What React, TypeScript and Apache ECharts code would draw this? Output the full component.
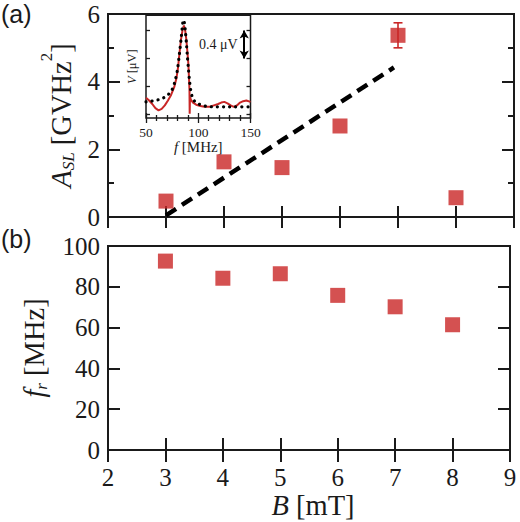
import React, { useEffect, useRef } from "react";
import * as echarts from "echarts";

// ---------- data ----------
const B_FIELD = [3, 4, 5, 6, 7, 8];
const A_SL = [0.47, 1.63, 1.46, 2.69, 5.37, 0.57];
const A_SL_ERR_B = [7];
const A_SL_ERR_LOW = [5.0];
const A_SL_ERR_HIGH = [5.74];
const FIT_B = [3, 6.93];
const FIT_A = [0.05, 4.42];
const F_R = [92.6, 84.2, 86.4, 75.8, 70.2, 61.4];

const INSET_F_MEAS = [
  50, 53, 56, 59, 62, 65, 68, 71, 74, 77, 79, 80.5, 82, 83.5, 85, 86.3, 87.5, 88.6, 89.6, 90.5, 91.2, 91.6,
  91.8, 92.1, 93, 95, 98, 102, 106, 111, 115, 119, 122, 125, 128, 131, 134, 137, 140, 143, 146, 150,
];
const INSET_V_MEAS = [
  0.29, 0.25, 0.2, 0.14, 0.11, 0.13, 0.18, 0.25, 0.33, 0.44, 0.56, 0.7, 0.92, 1.12, 1.26, 1.32, 1.25, 1.12, 0.95,
  0.78, 0.55, 0.4, 0.06, 0.3, 0.26, 0.22, 0.19, 0.17, 0.16, 0.16, 0.18, 0.2, 0.22, 0.23, 0.21, 0.18, 0.16, 0.18,
  0.22, 0.24, 0.25, 0.23,
];
const INSET_F_FIT = [
  50, 55, 60, 64, 67, 70, 73.6, 76, 78, 80, 82, 83.5, 84.8, 85.7, 86.7, 87.6, 88.6, 89.5, 90.6, 91.8, 93, 94.3,
  96.5, 99, 104, 109, 115, 125, 135, 150,
];
const INSET_V_FIT = [
  0.23, 0.24, 0.255, 0.27, 0.29, 0.32, 0.37, 0.44, 0.54, 0.68, 0.92, 1.12, 1.3, 1.4, 1.36, 1.25, 1.08, 0.9, 0.7,
  0.51, 0.38, 0.3, 0.24, 0.21, 0.18, 0.165, 0.16, 0.16, 0.16, 0.16,
];
const INSET_Y_TICKS = [0.05, 0.45, 0.85, 1.25];
const SCALE_BAR_F = 144;
const SCALE_BAR_V = [0.85, 1.25];

// ---------- styles ----------
const RED = "#c92626";
const INK = "#1a1a1a";
const SERIF = "Liberation Serif";
const SANS = "Liberation Sans";
const TITLE = 28.5;

const mainRich = (size: number) => {
  const small = Math.round(size * 0.6);
  return {
    i: { fontFamily: SERIF, fontSize: size, fontStyle: "italic", lineHeight: size + 1, padding: [0, 0, 1, 0], verticalAlign: "bottom", color: INK },
    n: { fontFamily: SERIF, fontSize: size, lineHeight: size + 1, padding: [0, 0, 1, 0], verticalAlign: "bottom", color: INK },
    sub: { fontFamily: SERIF, fontSize: small, fontStyle: "italic", lineHeight: small, verticalAlign: "bottom", color: INK },
    sup: { fontFamily: SERIF, fontSize: small, lineHeight: small, padding: [0, 0, 22, 0], verticalAlign: "bottom", color: INK },
  };
};

function buildOption() {
  const tickBase = { show: true, inside: true, lineStyle: { color: INK, width: 2 } };
  const noLine = { show: false };
  const noSplit = { show: false };

  const xAxes: any[] = [
    // top panel
    { gridIndex: 0, type: "value", position: "bottom", min: 2, max: 9, interval: 1, axisLine: noLine, splitLine: noSplit, axisTick: { ...tickBase, length: 11 }, axisLabel: { show: false } },
    { gridIndex: 0, type: "value", position: "top", min: 2, max: 9, interval: 1, axisLine: noLine, splitLine: noSplit, axisTick: { ...tickBase, length: 11 }, axisLabel: { show: false } },
    // bottom panel
    {
      gridIndex: 1, type: "value", position: "bottom", min: 2, max: 9, interval: 1, axisLine: noLine, splitLine: noSplit,
      axisTick: { ...tickBase, length: 12 },
      axisLabel: { show: true, fontFamily: SERIF, fontSize: 25, color: INK, margin: 15 },
      name: "{i|B}{n| [mT]}", nameLocation: "middle", nameGap: 40,
      nameTextStyle: { rich: mainRich(TITLE), padding: [0, 0, 0, 8] },
    },
    { gridIndex: 1, type: "value", position: "top", min: 2, max: 9, interval: 1, axisLine: noLine, splitLine: noSplit, axisTick: { ...tickBase, length: 12 }, axisLabel: { show: false } },
    // inset
    {
      gridIndex: 2, type: "value", position: "bottom", min: 50, max: 150, interval: 50, axisLine: noLine, splitLine: noSplit,
      axisTick: { show: true, inside: true, length: 5, lineStyle: { color: INK, width: 1.3 } },
      minorTick: { show: true, splitNumber: 5, length: 3, lineStyle: { color: INK, width: 1.3 } },
      minorSplitLine: { show: false },
      axisLabel: { show: true, fontFamily: SERIF, fontSize: 13.5, color: INK, margin: 7 },
      name: "{i|f}{n| [MHz]}", nameLocation: "middle", nameGap: 21,
      nameTextStyle: { rich: { i: { fontFamily: SERIF, fontSize: 15, fontStyle: "italic", color: INK }, n: { fontFamily: SERIF, fontSize: 15, color: INK } } },
    },
    {
      gridIndex: 2, type: "value", position: "top", min: 50, max: 150, interval: 50, axisLine: noLine, splitLine: noSplit,
      axisTick: { show: true, inside: true, length: 5, lineStyle: { color: INK, width: 1.3 } },
      minorTick: { show: true, splitNumber: 5, length: 3, lineStyle: { color: INK, width: 1.3 } },
      minorSplitLine: { show: false },
      axisLabel: { show: false },
    },
  ];

  const yAxes: any[] = [
    {
      gridIndex: 0, type: "value", position: "left", min: 0, max: 6, interval: 2, axisLine: noLine, splitLine: noSplit,
      axisTick: { ...tickBase, length: 12 },
      minorTick: { show: true, splitNumber: 2, length: 6, lineStyle: { color: INK, width: 2 } },
      minorSplitLine: { show: false },
      axisLabel: { show: true, fontFamily: SERIF, fontSize: 25, color: INK, margin: 8 },
      name: "{i|A}{sub|SL}{n| [GVHz}{sup|2}{n|]}", nameLocation: "middle", nameGap: 24, nameRotate: 90,
      nameTextStyle: { rich: mainRich(TITLE) },
    },
    {
      gridIndex: 0, type: "value", position: "right", min: 0, max: 6, interval: 2, axisLine: noLine, splitLine: noSplit,
      axisTick: { ...tickBase, length: 12 },
      minorTick: { show: true, splitNumber: 2, length: 6, lineStyle: { color: INK, width: 2 } },
      minorSplitLine: { show: false },
      axisLabel: { show: false },
    },
    {
      gridIndex: 1, type: "value", position: "left", min: 0, max: 100, interval: 20, axisLine: noLine, splitLine: noSplit,
      axisTick: { ...tickBase, length: 12 },
      axisLabel: { show: true, fontFamily: SERIF, fontSize: 25, color: INK, margin: 8 },
      name: "{i|f}{sub|r}{n| [MHz]}", nameLocation: "middle", nameGap: 58, nameRotate: 90,
      nameTextStyle: { rich: mainRich(TITLE) },
    },
    {
      gridIndex: 1, type: "value", position: "right", min: 0, max: 100, interval: 20, axisLine: noLine, splitLine: noSplit,
      axisTick: { ...tickBase, length: 12 }, axisLabel: { show: false },
    },
    {
      gridIndex: 2, type: "value", position: "left", min: 0, max: 1.467, axisLine: noLine, splitLine: noSplit,
      axisTick: { show: true, inside: true, length: 4, customValues: INSET_Y_TICKS, lineStyle: { color: INK, width: 1.3 } },
      axisLabel: { show: false },
      name: "{i|V}{n| [μV]}", nameLocation: "middle", nameGap: 8, nameRotate: 90,
      nameTextStyle: { rich: { i: { fontFamily: SERIF, fontSize: 12.5, fontStyle: "italic", color: INK }, n: { fontFamily: SERIF, fontSize: 12.5, color: INK } } },
    },
    {
      gridIndex: 2, type: "value", position: "right", min: 0, max: 1.467, axisLine: noLine, splitLine: noSplit,
      axisTick: { show: true, inside: true, length: 4, customValues: INSET_Y_TICKS, lineStyle: { color: INK, width: 1.3 } },
      axisLabel: { show: false },
    },
  ];

  const zip = (a: number[], b: number[]) => a.map((v, i) => [v, b[i]]);

  return {
    animation: false,
    backgroundColor: "#ffffff",
    grid: [
      { left: 108, top: 14, width: 406, height: 203, show: true, borderColor: INK, borderWidth: 2, backgroundColor: "transparent" },
      { left: 108, top: 246, width: 402, height: 204, show: true, borderColor: INK, borderWidth: 2, backgroundColor: "transparent" },
      { left: 146, top: 15.3, width: 104.5, height: 102.7, show: true, borderColor: INK, borderWidth: 1.5, backgroundColor: "#ffffff" },
    ],
    xAxis: xAxes,
    yAxis: yAxes,
    graphic: [
      { type: "text", left: 1, top: 1, style: { text: "(a)", fontFamily: SANS, fontSize: 25, fill: INK } },
      { type: "text", left: 1, top: 226, style: { text: "(b)", fontFamily: SANS, fontSize: 25, fill: INK } },
      { type: "text", left: 199, top: 37, style: { text: "0.4 μV", fontFamily: SERIF, fontSize: 14, fill: INK } },
    ],
    series: [
      {
        type: "line", name: "fit", xAxisIndex: 0, yAxisIndex: 0, data: zip(FIT_B, FIT_A), symbol: "none",
        lineStyle: { color: "#000", width: 4.5, type: [12, 7] }, silent: true, z: 2,
      },
      {
        type: "custom", name: "err", xAxisIndex: 0, yAxisIndex: 0,
        data: A_SL_ERR_B.map((b, i) => [b, A_SL_ERR_LOW[i], A_SL_ERR_HIGH[i]]),
        renderItem: (_p: any, api: any) => {
          const x = api.value(0);
          const lo = api.coord([x, api.value(1)]);
          const hi = api.coord([x, api.value(2)]);
          const w = 4.5;
          const st = { stroke: RED, lineWidth: 1.6 };
          return {
            type: "group",
            children: [
              { type: "line", shape: { x1: lo[0], y1: lo[1], x2: hi[0], y2: hi[1] }, style: st },
              { type: "line", shape: { x1: lo[0] - w, y1: lo[1], x2: lo[0] + w, y2: lo[1] }, style: st },
              { type: "line", shape: { x1: hi[0] - w, y1: hi[1], x2: hi[0] + w, y2: hi[1] }, style: st },
            ],
          };
        },
        z: 3,
      },
      {
        type: "scatter", name: "A_SL", xAxisIndex: 0, yAxisIndex: 0, data: zip(B_FIELD, A_SL),
        symbol: "rect", symbolSize: 15, itemStyle: { color: RED }, z: 4,
      },
      {
        type: "scatter", name: "f_r", xAxisIndex: 2, yAxisIndex: 2, data: zip(B_FIELD, F_R),
        symbol: "rect", symbolSize: 15, itemStyle: { color: RED }, z: 4,
      },
      {
        type: "line", name: "meas", xAxisIndex: 4, yAxisIndex: 4, data: zip(INSET_F_MEAS, INSET_V_MEAS),
        symbol: "none", lineStyle: { color: RED, width: 2 }, z: 5,
      },
      {
        type: "line", name: "model", xAxisIndex: 4, yAxisIndex: 4, data: zip(INSET_F_FIT, INSET_V_FIT),
        symbol: "none", smooth: 0.3,
        lineStyle: { color: "#000", width: 3.2, type: [0.1, 6], cap: "round" }, z: 6,
        markLine: {
          silent: true, symbol: ["arrow", "arrow"], symbolSize: [7, 8],
          label: { show: false },
          lineStyle: { color: "#000", type: "solid", width: 2 },
          data: [[{ coord: [SCALE_BAR_F, SCALE_BAR_V[0]] }, { coord: [SCALE_BAR_F, SCALE_BAR_V[1]] }]],
        },
      },
    ],
  };
}

export default function App() {
  const ref = useRef<HTMLDivElement>(null);
  useEffect(() => {
    document.body.style.margin = "0";
    if (!ref.current) return;
    const chart = echarts.init(ref.current, undefined, { renderer: "svg" });
    chart.setOption(buildOption() as any);
    return () => chart.dispose();
  }, []);
  return <div ref={ref} style={{ width: 520, height: 522 }} />;
}
